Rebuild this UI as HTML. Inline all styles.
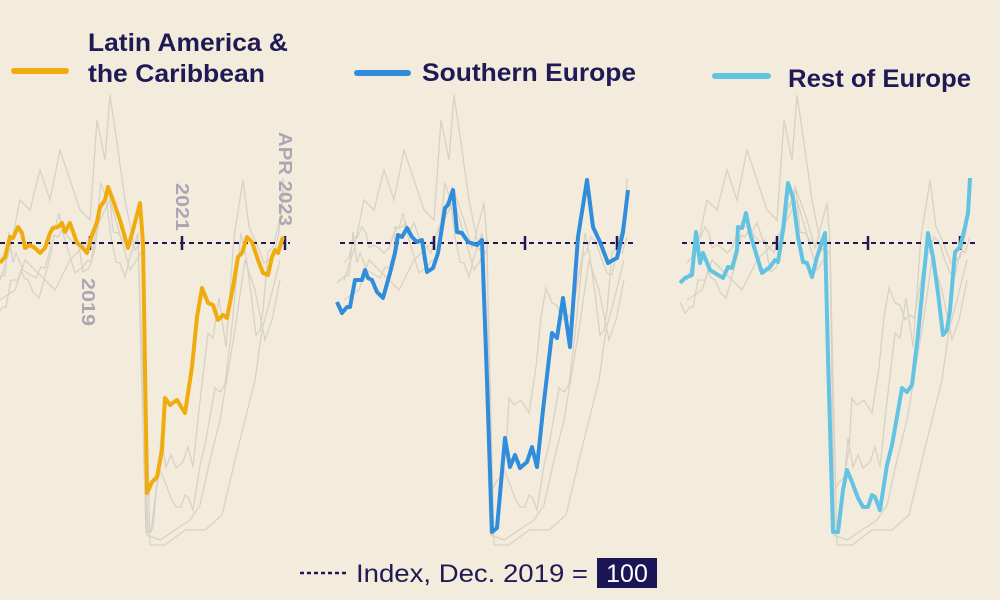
<!DOCTYPE html>
<html><head><meta charset="utf-8"><style>
body{margin:0;background:#f3ecdc;}
svg{display:block}
text{font-family:"Liberation Sans",sans-serif;}
</style></head><body>
<svg width="1000" height="600" viewBox="0 0 1000 600">
<rect width="1000" height="600" fill="#f3ecdc"/>
<defs>
<polyline id="y" points="0,263 5,257 10,237 13,238 18,227 22,233 25,248 30,245 35,248 40,253 45,248 50,233 53,228 58,227 62,223 65,232 70,223 77,243 82,247 87,253 92,235 97,222 100,207 105,200 108,187 113,200 120,220 128,248 133,230 140,203 143,243 147,493 152,482 157,477 162,450 165,398 170,405 177,400 185,413 192,367 197,317 202,288 208,303 213,305 218,320 223,315 227,318 233,287 238,257 242,253 247,237 252,242 258,260 263,273 268,275 272,257 275,250 278,253 283,237"/>
<polyline id="b" points="337,302 342,313 347,307 350,307 355,280 362,280 365,270 368,278 372,280 377,292 383,298 390,273 395,253 398,235 402,237 407,228 412,237 417,242 422,240 427,272 433,268 438,253 445,208 448,205 453,190 457,232 462,233 468,242 477,245 482,240 487,380 492,532 497,528 505,438 510,467 515,455 520,468 527,462 532,447 537,467 543,410 552,333 557,338 563,298 570,347 578,237 587,180 593,227 600,242 608,263 613,260 617,258 623,232 628,190"/>
<polyline id="l" points="680,283 685,278 692,275 696,232 700,263 703,253 710,270 718,275 723,278 728,267 732,268 737,250 738,227 742,228 746,213 750,233 755,250 762,273 770,267 775,260 778,262 783,230 788,183 793,198 798,237 803,262 807,263 812,277 817,257 825,233 828,357 833,532 838,532 843,490 847,470 852,482 858,498 863,507 868,507 872,495 875,497 880,510 887,465 892,445 897,417 902,388 907,392 912,385 918,335 928,233 933,257 938,293 943,335 947,330 950,310 955,252 960,247 965,227 968,213 970,178"/>
<polyline id="g" points="0,280 10,250 20,200 30,210 40,170 50,200 60,150 70,180 80,210 90,220 97,120 105,160 110,95 118,150 125,200 135,250 143,240 147,535 160,540 175,530 190,520 200,505 210,460 220,420 235,330 245,260 255,290 265,340 272,320 280,280"/>
<polyline id="h" points="0,300 15,290 25,260 40,275 55,290 70,260 85,245 95,230 110,200 120,235 130,270 143,250 150,545 165,545 185,530 205,530 222,515 235,460 245,420 255,380 262,330 270,300 280,260"/>
</defs>
<g fill="none" stroke="#bdb9b0" stroke-width="1.3" opacity="0.5">
<use href="#b" transform="translate(-344,0)"/><use href="#l" transform="translate(-687,0)"/><use href="#g"/><use href="#h"/>
<use href="#y" transform="translate(344,0)"/><use href="#l" transform="translate(-343,0)"/><use href="#g" transform="translate(344,0)"/><use href="#h" transform="translate(344,0)"/>
<use href="#y" transform="translate(687,0)"/><use href="#b" transform="translate(343,0)"/><use href="#g" transform="translate(687,0)"/><use href="#h" transform="translate(687,0)"/>
</g>
<g stroke="#1f1a55" stroke-width="2" stroke-dasharray="5,4">
<line x1="0" y1="243" x2="290" y2="243"/><line x1="340" y1="243" x2="637" y2="243"/><line x1="682" y1="243" x2="978" y2="243"/>
</g>
<g stroke="#1f1a55" stroke-width="2.5">
<line x1="90" y1="236" x2="90" y2="250"/><line x1="182" y1="236" x2="182" y2="250"/><line x1="285" y1="236" x2="285" y2="250"/>
<line x1="434" y1="236" x2="434" y2="250"/><line x1="525" y1="236" x2="525" y2="250"/><line x1="617" y1="236" x2="617" y2="250"/>
<line x1="777" y1="236" x2="777" y2="250"/><line x1="868" y1="236" x2="868" y2="250"/><line x1="960" y1="236" x2="960" y2="250"/>
</g>
<g fill="none" stroke-width="4" stroke-linejoin="round">
<use href="#y" stroke="#f0ab0f"/><use href="#b" stroke="#2f8ddb"/><use href="#l" stroke="#63c3e2"/>
</g>
<g fill="#aaa6b4" font-weight="bold" font-size="18">
<text transform="translate(82,278) rotate(90)" textLength="48" lengthAdjust="spacingAndGlyphs">2019</text>
<text transform="translate(176,183) rotate(90)" textLength="48" lengthAdjust="spacingAndGlyphs">2021</text>
<text transform="translate(279,132) rotate(90)" textLength="94" lengthAdjust="spacingAndGlyphs">APR 2023</text>
</g>
<g fill="#1f1a55" font-weight="bold" font-size="25">
<text x="88" y="51" textLength="200" lengthAdjust="spacingAndGlyphs">Latin America &amp;</text>
<text x="88" y="82" textLength="177" lengthAdjust="spacingAndGlyphs">the Caribbean</text>
<text x="422" y="81" textLength="214" lengthAdjust="spacingAndGlyphs">Southern Europe</text>
<text x="788" y="87" textLength="183" lengthAdjust="spacingAndGlyphs">Rest of Europe</text>
</g>
<g stroke-width="6" stroke-linecap="round">
<line x1="14" y1="71" x2="66" y2="71" stroke="#f0ab0f"/>
<line x1="357" y1="73" x2="408" y2="73" stroke="#2f8ddb"/>
<line x1="715" y1="76" x2="768" y2="76" stroke="#63c3e2"/>
</g>
<line x1="300" y1="573" x2="346" y2="573" stroke="#1f1a55" stroke-width="2.5" stroke-dasharray="4,3"/>
<text x="356" y="582" font-size="25" fill="#1f1a55" textLength="232" lengthAdjust="spacingAndGlyphs">Index, Dec. 2019 =</text>
<rect x="597" y="558" width="60" height="30" fill="#1a1656"/>
<text x="627" y="582" font-size="25" fill="#fff" text-anchor="middle">100</text>
</svg>
</body></html>
